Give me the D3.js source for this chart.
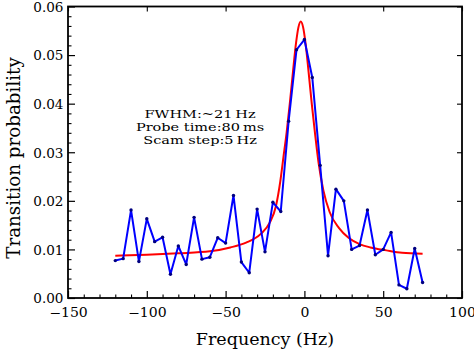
<!DOCTYPE html>
<html>
<head>
<meta charset="utf-8">
<script src="https://cdn.jsdelivr.net/npm/d3@7"></script>
<style>
  html, body { margin: 0; padding: 0; background: #fff; }
  svg { display: block; }
  text { font-family: "DejaVu Serif", serif; fill: #000; }
</style>
</head>
<body>
<svg id="chart" width="474" height="350"></svg>
<script>
// ---- data ----
const freq = [-120, -115, -110, -105, -100, -95, -90, -85, -80, -75, -70, -65, -60, -55, -50, -45, -40, -35, -30, -25,
              -20, -15, -10, -5, 0, 5, 10, 15, 20, 25, 30, 35, 40, 45, 50, 55, 60, 65, 70, 75];
const prob = [0.0077, 0.0081, 0.0181, 0.0075, 0.0163, 0.0116, 0.0125, 0.0049, 0.0107, 0.0069,
              0.0166, 0.0080, 0.0084, 0.0124, 0.0113, 0.0211, 0.0074, 0.0052, 0.0183, 0.0095,
              0.0197, 0.0178, 0.0364, 0.0511, 0.0532, 0.0454, 0.0273, 0.0087, 0.0224, 0.0200,
              0.0100, 0.0108, 0.0181, 0.0089, 0.0100, 0.0135, 0.0027, 0.0019, 0.0102, 0.0032];
// fitted curve
const fitFreq = [-120, -100, -80, -60, -47, -37, -28, -22, -18, -15.3, -13.3, -11.3, -9.3, -7.3, -5.3, -3.8, -2.3,
                 -0.8, 0.7, 2.7, 4.7, 6.7, 9, 12, 16, 22, 28, 35, 42, 52, 62, 75];
const fitProb = [0.0087, 0.0089, 0.0092, 0.0096, 0.0104, 0.0114, 0.0131, 0.0155, 0.0190, 0.0240, 0.0290, 0.0340,
                 0.0399, 0.0464, 0.0525, 0.0557, 0.0569, 0.0557, 0.0525, 0.0464, 0.0399, 0.0340, 0.0278, 0.0222,
                 0.0177, 0.0144, 0.0124, 0.0111, 0.0104, 0.0098, 0.0093, 0.0091];
const xTicks = [-150, -100, -50, 0, 50, 100];
const yTicks = [0.00, 0.01, 0.02, 0.03, 0.04, 0.05, 0.06];
const annotation = ["FWHM:~21\u2009Hz", "Probe time:80\u2009ms", "Scam step:5\u2009Hz"];

// ---- layout ----
const svg = d3.select("#chart");
const L = 68, R = 462, T = 6.5, B = 298;
const x = d3.scaleLinear().domain([-150, 100]).range([L, R]);
const y = d3.scaleLinear().domain([0, 0.06]).range([B, T]);

const fmtX = d => (d < 0 ? "\u2212" + Math.abs(d) : String(d));
const fmtY = d3.format(".2f");

// minor ticks
const xMinor = d3.range(-150, 100.1, 10).filter(v => !xTicks.includes(v));
const yMinor = d3.range(0, 0.0601, 0.002).filter(v => Math.abs(Math.round(v * 100) - v * 100) > 1e-6);

const g = svg.append("g");

// bottom axis (ticks inward)
const bottom = g.append("g").attr("transform", `translate(0,${B})`)
  .call(d3.axisBottom(x).tickValues(xTicks).tickFormat(fmtX).tickSizeInner(-7).tickSizeOuter(0).tickPadding(10));
bottom.select(".domain").remove();
bottom.selectAll("line").attr("stroke", "#000").attr("stroke-width", 1.2);
bottom.selectAll("text").attr("font-size", 12).attr("font-family", "DejaVu Serif")
  .attr("transform", "scale(1.17,1)");
g.append("g").attr("transform", `translate(0,${B})`)
  .call(d3.axisBottom(x).tickValues(xMinor).tickFormat("").tickSizeInner(-3.5).tickSizeOuter(0))
  .call(s => s.select(".domain").remove())
  .selectAll("line").attr("stroke", "#000").attr("stroke-width", 1.1);

// top ticks
g.append("g").attr("transform", `translate(0,${T})`)
  .call(d3.axisTop(x).tickValues(xTicks).tickFormat("").tickSizeInner(-5).tickSizeOuter(0))
  .call(s => s.select(".domain").remove())
  .selectAll("line").attr("stroke", "#000").attr("stroke-width", 1.1);

// left axis
const left = g.append("g").attr("transform", `translate(${L},0)`)
  .call(d3.axisLeft(y).tickValues(yTicks).tickFormat(fmtY).tickSizeInner(-7).tickSizeOuter(0).tickPadding(4));
left.select(".domain").remove();
left.selectAll("line").attr("stroke", "#000").attr("stroke-width", 1.2);
left.selectAll("text").attr("font-size", 12).attr("font-family", "DejaVu Serif")
  .attr("transform", "scale(1.13,1)").attr("dy", "0.4em");
g.append("g").attr("transform", `translate(${L},0)`)
  .call(d3.axisLeft(y).tickValues(yMinor).tickFormat("").tickSizeInner(-3.5).tickSizeOuter(0))
  .call(s => s.select(".domain").remove())
  .selectAll("line").attr("stroke", "#000").attr("stroke-width", 1.1);

// right ticks
g.append("g").attr("transform", `translate(${R},0)`)
  .call(d3.axisRight(y).tickValues(yTicks).tickFormat("").tickSizeInner(-5).tickSizeOuter(0))
  .call(s => s.select(".domain").remove())
  .selectAll("line").attr("stroke", "#000").attr("stroke-width", 1.1);

// frame
g.append("rect").attr("x", L).attr("y", T).attr("width", R - L).attr("height", B - T)
  .attr("fill", "none").attr("stroke", "#000").attr("stroke-width", 1.8);

// fit curve
const fitData = fitFreq.map((f, i) => [f, fitProb[i]]);
g.append("path").datum(fitData)
  .attr("fill", "none").attr("stroke", "#ff0000").attr("stroke-width", 2)
  .attr("d", d3.line().x(d => x(d[0])).y(d => y(d[1])).curve(d3.curveMonotoneX));

// data line
const data = freq.map((f, i) => [f, prob[i]]);
g.append("path").datum(data)
  .attr("fill", "none").attr("stroke", "#0000ff").attr("stroke-width", 2).attr("stroke-linejoin", "round")
  .attr("d", d3.line().x(d => x(d[0])).y(d => y(d[1])));
g.selectAll("circle.pt").data(data).enter().append("circle").attr("class", "pt")
  .attr("cx", d => x(d[0])).attr("cy", d => y(d[1])).attr("r", 1.7).attr("fill", "#000080");

// axis titles
svg.append("text").attr("x", (L + R) / 2).attr("y", 345).attr("text-anchor", "middle")
  .attr("font-size", 17.5).text("Frequency (Hz)");
svg.append("text").attr("transform", `translate(20,158) rotate(-90)`).attr("text-anchor", "middle")
  .attr("font-size", 18.3).text("Transition probability");

// annotation (slightly wide lettering as in the reference)
svg.append("g").selectAll("text").data(annotation).enter().append("text")
  .attr("transform", (d, i) => `translate(200,${118 + i * 13}) scale(1.32,1)`)
  .attr("text-anchor", "middle")
  .attr("font-size", 11).text(d => d);
</script>
</body>
</html>
